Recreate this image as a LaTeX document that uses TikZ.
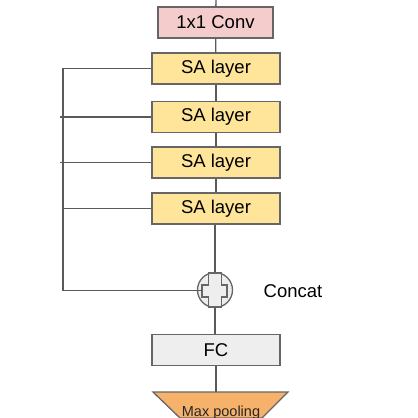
\documentclass[tikz,border=0pt]{standalone}
\usepackage{fontspec}
\setmainfont{Liberation Sans}
\definecolor{edge}{HTML}{666666}
\definecolor{wire}{HTML}{5A5A5A}
\definecolor{convfill}{HTML}{F4CCCC}
\definecolor{safill}{HTML}{FFE599}
\definecolor{fcfill}{HTML}{EEEEEE}
\definecolor{poolfill}{HTML}{F6B26B}
\tikzset{
  box/.style={draw=edge, line width=1.3pt, minimum width=128pt, minimum height=31pt, inner sep=0pt, font=\fontsize{18.5}{20}\selectfont},
  convbox/.style={box, fill=convfill, minimum width=115pt},
  sabox/.style={box, fill=safill},
  fcbox/.style={box, fill=fcfill},
  wireline/.style={draw=wire, line width=1.3pt},
}
\begin{document}
\begin{tikzpicture}[x=1pt,y=-1pt]
\useasboundingbox (0,0) rectangle (418,418);
\clip (0,0) rectangle (418,418);
\coordinate (top) at (216,0);
\node[convbox] (conv) at (215.5,22.5) {1x1 Conv};
\node[sabox] (sa1) at (216,68.5) {SA layer};
\node[sabox] (sa2) at (216,117) {SA layer};
\node[sabox] (sa3) at (216,162.5) {SA layer};
\node[sabox] (sa4) at (216,208.5) {SA layer};
\node[fcbox] (fc) at (216,350) {FC};
% concat
\node[circle, draw=edge, fill=fcfill, line width=1.3pt, minimum size=35pt, inner sep=0pt] (cat) at (215,290) {};
\node[font=\fontsize{18.5}{20}\selectfont] (catlabel) at (293,291) {Concat};
% pooling trapezoid
\coordinate (pooltop) at (216,392);
\draw[draw=edge, line width=1.3pt, fill=poolfill] (153,392) -- (288,392) -- (262,418) -- (180,418) -- cycle;
\node[font=\fontsize{14.5}{16}\selectfont, text=black!85, anchor=base] (pool) at (221,416) {Max pooling};
% cross inside circle
\draw[draw=edge, line width=1.2pt]
  (208.5,273) -- (221.5,273) -- (221.5,285) -- (227,285) -- (227,297) -- (221.5,297) -- (221.5,307)
  -- (208.5,307) -- (208.5,297) -- (202,297) -- (202,285) -- (208.5,285) -- cycle;
% main wires
\draw[wireline] (top) -- (conv);
\draw[wireline] (conv) -- (sa1);
\draw[wireline] (sa1) -- (sa2);
\draw[wireline] (sa2) -- (sa3);
\draw[wireline] (sa3) -- (sa4);
\draw[wireline] (sa4.south -| cat.north) -- (cat.north);
\draw[wireline] (cat.south) -- (cat.south |- fc.north);
\draw[wireline] (fc.south) -- (pooltop);
% side bus
\coordinate (b1) at (63,68.5);
\coordinate (b2) at (60,117);
\coordinate (b3) at (60,162.5);
\coordinate (b4) at (63,208.5);
\coordinate (bc) at (63,290.5);
\draw[wireline] (sa1.west) -- (b1) -- (bc) -- (202,290.5);
\draw[wireline] (sa2.west) -- (b2);
\draw[wireline] (sa3.west) -- (b3);
\draw[wireline] (sa4.west) -- (b4);
\end{tikzpicture}
\end{document}
